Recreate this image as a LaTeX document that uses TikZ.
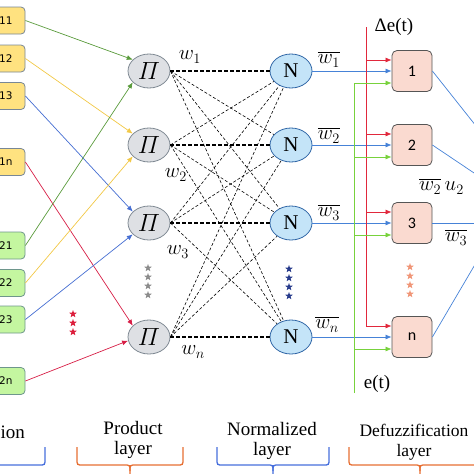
\documentclass[tikz,border=0pt]{standalone}
\usepackage{amsmath}
\usepackage{fontspec}
\setmainfont{Liberation Serif}
\newfontfamily\numfont{Carlito}
\newfontfamily\inpfont{DejaVu Sans}
\usetikzlibrary{shapes.geometric,arrows.meta,calc}
\definecolor{yfill}{RGB}{255,226,128}
\definecolor{ydraw}{RGB}{120,135,150}
\definecolor{gfill}{RGB}{196,246,160}
\definecolor{gdraw}{RGB}{110,150,140}
\definecolor{pifill}{RGB}{222,224,228}
\definecolor{pidraw}{RGB}{125,135,145}
\definecolor{nfill}{RGB}{196,228,248}
\definecolor{ndraw}{RGB}{45,100,165}
\definecolor{dfill}{RGB}{250,218,208}
\definecolor{ddraw}{RGB}{85,85,85}
\definecolor{cgreen}{RGB}{90,155,60}
\definecolor{cyellow}{RGB}{242,200,70}
\definecolor{cblue}{RGB}{70,110,210}
\definecolor{cred}{RGB}{215,30,70}
\definecolor{vred}{RGB}{225,40,60}
\definecolor{vgreen}{RGB}{120,210,60}
\definecolor{nblue}{RGB}{70,130,215}
\definecolor{orng}{RGB}{230,110,50}
\definecolor{bblue}{RGB}{70,110,220}
\definecolor{sred}{RGB}{220,30,60}
\definecolor{sgray}{RGB}{140,140,140}
\definecolor{snavy}{RGB}{40,60,140}
\definecolor{ssalmon}{RGB}{240,150,120}
\newcommand\layerbrace[4]{%
  \draw[brace,#1] (#2,447) -- (#2,459) .. controls (#2,465) .. (#2+6,465) -- (#3-6,465) .. controls (#3,465) .. (#3,471) -- (#3,476);
  \draw[brace,#1] (#4,447) -- (#4,459) .. controls (#4,465) .. (#4-6,465) -- (#3+6,465) .. controls (#3,465) .. (#3,471);}
\begin{document}
\begin{tikzpicture}[x=1pt,y=-1pt,
  pinode/.style={ellipse, draw=pidraw, fill=pifill, line width=0.8pt, minimum width=42pt, minimum height=34pt, inner sep=0pt, font=\fontsize{23}{23}\selectfont},
  nnode/.style={ellipse, draw=ndraw, fill=nfill, line width=0.8pt, minimum width=42pt, minimum height=34pt, inner sep=0pt, font=\fontsize{21}{21}\selectfont},
  dbox/.style={rectangle, rounded corners=5pt, draw=ddraw, fill=dfill, line width=0.8pt, minimum width=40pt, minimum height=41pt, inner sep=0pt, font=\numfont\fontsize{16}{16}\selectfont},
  inbox/.style={rectangle, rounded corners=4pt, line width=0.8pt, minimum width=40pt, minimum height=27pt, text width=15pt, align=right, inner sep=0pt, font=\inpfont\fontsize{10.5}{10.5}\selectfont},
  ybox/.style={inbox, draw=ydraw, fill=yfill},
  gbox/.style={inbox, draw=gdraw, fill=gfill},
  arr/.style={-{Latex[length=6pt,width=5pt]}, line width=0.7pt},
  thickdash/.style={line width=1.4pt, dash pattern=on 4pt off 2pt},
  thindash/.style={line width=0.6pt, dash pattern=on 3pt off 2pt},
  wlab/.style={inner sep=1pt, font=\fontsize{20}{20}\selectfont},
  lbl/.style={inner sep=0pt, font=\fontsize{19}{20}\selectfont, align=center},
  brace/.style={line width=1.3pt},
  starsym/.style={star, star points=5, star point ratio=2.4, minimum size=8pt, inner sep=0pt, draw=none}]
\useasboundingbox (0,0) rectangle (474,474);
\clip (0,0) rectangle (474,474);

% input boxes
\node[ybox] (L11) at (5,20.5) {\raisebox{-5pt}{11}};
\node[ybox] (L12) at (5,58.5) {\raisebox{-5pt}{12}};
\node[ybox] (L13) at (5,96) {\raisebox{-5pt}{13}};
\node[ybox] (L1n) at (5,162) {\raisebox{-5pt}{1n}};
\node[gbox] (L21) at (5,245.5) {\raisebox{-5pt}{21}};
\node[gbox] (L22) at (5,283) {\raisebox{-5pt}{22}};
\node[gbox] (L23) at (5,319.5) {\raisebox{-5pt}{23}};
\node[gbox] (L2n) at (5,381) {\raisebox{-5pt}{2n}};

% product nodes
\node[pinode] (P1) at (149,71) {$\varPi$};
\node[pinode] (P2) at (149,145) {$\varPi$};
\node[pinode] (P3) at (149,223) {$\varPi$};
\node[pinode] (Pn) at (149,337) {$\varPi$};

% normalized nodes
\node[nnode] (N1) at (291,71) {N};
\node[nnode] (N2) at (291,145) {N};
\node[nnode] (N3) at (291,223) {N};
\node[nnode] (Nn) at (291,337) {N};

% defuzzification boxes
\node[dbox] (B1) at (412,71) {1};
\node[dbox] (B2) at (412,145) {2};
\node[dbox] (B3) at (412,223) {3};
\node[dbox] (Bn) at (412,337) {n};

% input connectors
\draw[arr,cgreen] (L11.east) -- (P1.145);
\draw[arr,cyellow] (L12.east) -- (P2.145);
\draw[arr,cblue] (L13.east) -- (P3.145);
\draw[arr,cred] (L1n.east) -- (Pn.145);
\draw[arr,cgreen] (L21.east) -- (P1.215);
\draw[arr,cyellow] (L22.east) -- (P2.215);
\draw[arr,cblue] (L23.east) -- (P3.215);
\draw[arr,cred] (L2n.east) -- (Pn.190);

% dashed connections
\foreach \i in {1,2,3,n}{
  \draw[thickdash] (P\i.east) -- (N\i.west);
  \foreach \j in {1,2,3,n}{
    \ifx\i\j\else\draw[thindash] (P\i.east) -- (N\j);\fi
  }
}

% w labels
\node[wlab] (w1) at (190,57) {$w_1$};
\node[wlab] (w2) at (176,175) {$w_2$};
\node[wlab] (w3) at (178,252) {$w_3$};
\node[wlab] (wn) at (193,352) {$w_n$};

% N to boxes
\foreach \i in {1,2,3,n}{
  \draw[arr,nblue] (N\i.east) -- (B\i.west);
  \coordinate (R\i) at ($(B\i.west)+(0,-11)$);
  \coordinate (G\i) at ($(B\i.west)+(0,12)$);
}
\node[wlab] (ow1) at (329,59) {$\overline{w_1}$};
\node[wlab] (ow2) at (329,135) {$\overline{w_2}$};
\node[wlab] (ow3) at (329,212) {$\overline{w_3}$};
\node[wlab] (own) at (327,324) {$\overline{w_n}$};

% red delta e line
\coordinate (rtop) at (366,27);
\draw[arr,vred] (rtop) -- (rtop |- Rn) -- (Rn);
\foreach \i in {1,2,3}{\draw[arr,vred] (rtop |- R\i) -- (R\i);}
\node[lbl] (de) at (394,27) {Δe(t)};

% green e line
\coordinate (gbot) at (354,393);
\draw[arr,vgreen] (gbot) -- (gbot |- G1) -- (G1);
\foreach \i in {2,3,n}{\draw[arr,vgreen] (gbot |- G\i) -- (G\i);}
\node[lbl] (et) at (377,384) {e(t)};

% outputs
\coordinate (o1) at (480,131);
\coordinate (o2) at (480,177);
\coordinate (o3) at (480,223);
\coordinate (on) at (480,256);
\foreach \i in {1,2,3,n}{\draw[nblue, line width=0.7pt] (B\i.east) -- (o\i);}
\node[wlab, anchor=west] (ou2) at (418,186) {$\overline{w_2}\,u_2$};
\node[wlab, anchor=west] (ou3) at (444,237) {$\overline{w_3}$};

% stars
\foreach \y in {314,323,332}{\node[starsym, fill=sred] (rs\y) at (73,\y) {};}
\foreach \y in {268,277,286,295}{\node[starsym, fill=sgray] (gs\y) at (148,\y) {};}
\foreach \y in {269,278,287,296}{\node[starsym, fill=snavy] (bs\y) at (289,\y) {};}
\foreach \y in {267,276,285,294}{\node[starsym, fill=ssalmon] (os\y) at (410,\y) {};}

% bottom labels
\node[lbl, anchor=east] (lf) at (25,432) {ion};
\node[lbl] (lp) at (133,440) {Product\\layer};
\node[lbl] (ln) at (272,441) {Normalized\\layer};
\node[lbl, font=\fontsize{17.5}{20}\selectfont] (ld) at (414,442) {Defuzzification\\layer};
\draw[brace,bblue] (-20,465) -- (39,465) .. controls (45,465) .. (45,459) -- (45,447);
\layerbrace{orng}{77}{130}{183}
\layerbrace{bblue}{217}{273}{329}
\layerbrace{orng}{349}{420}{520}
\end{tikzpicture}
\end{document}
